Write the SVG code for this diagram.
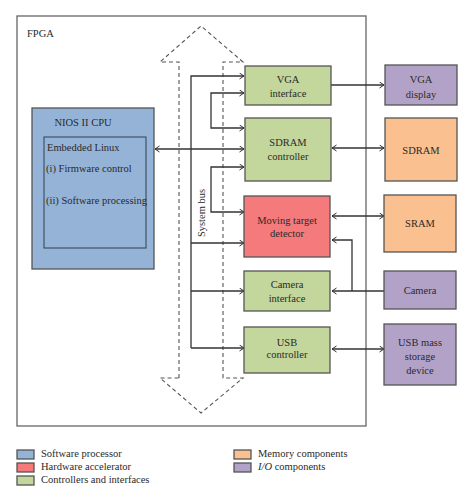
<svg xmlns="http://www.w3.org/2000/svg" width="474" height="502" viewBox="0 0 474 502">
<defs>
<marker id="arr" markerUnits="userSpaceOnUse" markerWidth="8" markerHeight="8" refX="5" refY="3.5" orient="auto-start-reverse">
<path d="M0.5,0.5 L5,3.5 L0.5,6.5" fill="none" stroke="#333" stroke-width="1"/>
</marker>
</defs>
<style>
text{font-family:"Liberation Serif","Times New Roman",serif;font-size:10.5px;fill:#2a2a2a}
.c{text-anchor:middle}
.box{stroke:#555;stroke-width:1.3}
.blue{fill:#95b3d7}
.red{fill:#f47a7c}
.green{fill:#c3d69b}
.orange{fill:#fac090}
.purple{fill:#b3a2c7}
.ln{fill:none;stroke:#333;stroke-width:1.3}
.bus{fill:none;stroke:#555;stroke-width:1.1;stroke-dasharray:4,3}
</style>
<rect width="474" height="502" fill="#fff"/>
<g id="fpga">
<rect x="17" y="16" width="349" height="410" fill="none" stroke="#666" stroke-width="1.3"/>
<text x="27" y="37">FPGA</text>
</g>
<g id="system-bus">
<path class="bus" d="M179,378 L179,62 L160,62 L201,26 L243,62 L223,62 L223,378 L243,378 L201,413 L160,378 L179,378"/>
<text class="c" transform="translate(205,213) rotate(-90)">System bus</text>
</g>
<g id="connectors">
<path class="ln" d="M191,348 L191,76 L244,76" marker-end="url(#arr)"/>
<path class="ln" d="M191,243 L244,243" marker-end="url(#arr)"/>
<path class="ln" d="M191,291 L244,291" marker-end="url(#arr)"/>
<path class="ln" d="M191,348 L244,348" marker-end="url(#arr)"/>
<path class="ln" d="M244,93 L211,93 L211,128 L244,128" marker-start="url(#arr)" marker-end="url(#arr)"/>
<path class="ln" d="M244,167 L211,167 L211,212 L244,212" marker-start="url(#arr)" marker-end="url(#arr)"/>
<path class="ln" d="M155,149 L244,149" marker-start="url(#arr)" marker-end="url(#arr)"/>
<path class="ln" d="M331,85 L384,85" marker-end="url(#arr)"/>
<path class="ln" d="M332,148 L384,148" marker-start="url(#arr)" marker-end="url(#arr)"/>
<path class="ln" d="M332,216 L384,216" marker-start="url(#arr)" marker-end="url(#arr)"/>
<path class="ln" d="M384,291 L332,291" marker-end="url(#arr)"/>
<path class="ln" d="M352,291 L352,240 L332,240" marker-end="url(#arr)"/>
<path class="ln" d="M332,349 L384,349" marker-start="url(#arr)" marker-end="url(#arr)"/>
</g>
<g id="nios-cpu">
<rect class="box blue" x="32" y="108" width="122" height="161"/>
<rect x="44" y="137" width="102" height="111" fill="none" stroke="#3a4a5e" stroke-width="1.1"/>
<text class="c" x="83" y="126">NIOS II CPU</text>
<text x="47" y="151">Embedded Linux</text>
<text x="46" y="172">(i) Firmware control</text>
<text x="46" y="204">(ii) Software processing</text>
</g>
<g id="vga-interface">
<rect class="box green" x="245" y="66" width="86" height="39"/>
<text class="c" x="288" y="83">VGA</text>
<text class="c" x="288" y="97">interface</text>
</g>
<g id="sdram-controller">
<rect class="box green" x="245" y="118" width="86" height="63"/>
<text class="c" x="288" y="146">SDRAM</text>
<text class="c" x="288" y="160">controller</text>
</g>
<g id="moving-target-detector">
<rect class="box red" x="244" y="196" width="86" height="61"/>
<text class="c" x="287" y="224">Moving target</text>
<text class="c" x="287" y="237">detector</text>
</g>
<g id="camera-interface">
<rect class="box green" x="244" y="271" width="86" height="40"/>
<text class="c" x="287" y="288">Camera</text>
<text class="c" x="287" y="302">interface</text>
</g>
<g id="usb-controller">
<rect class="box green" x="244" y="327" width="86" height="46"/>
<text class="c" x="287" y="346">USB</text>
<text class="c" x="287" y="358">controller</text>
</g>
<g id="vga-display">
<rect class="box purple" x="385" y="65" width="72" height="40"/>
<text class="c" x="421" y="83">VGA</text>
<text class="c" x="421" y="98">display</text>
</g>
<g id="sdram">
<rect class="box orange" x="385" y="118" width="72" height="63"/>
<text class="c" x="421" y="154">SDRAM</text>
</g>
<g id="sram">
<rect class="box orange" x="384" y="195" width="72" height="57"/>
<text class="c" x="420" y="227">SRAM</text>
</g>
<g id="camera">
<rect class="box purple" x="384" y="271" width="72" height="38"/>
<text class="c" x="420" y="294">Camera</text>
</g>
<g id="usb-mass-storage">
<rect class="box purple" x="384" y="324" width="72" height="61"/>
<text class="c" x="420" y="346">USB mass</text>
<text class="c" x="420" y="360">storage</text>
<text class="c" x="420" y="374">device</text>
</g>
<g id="legend">
<rect class="box blue" x="17" y="450" width="17" height="9" stroke-width="1"/>
<rect class="box red" x="17" y="463" width="17" height="9" stroke-width="1"/>
<rect class="box green" x="17" y="476" width="17" height="9" stroke-width="1"/>
<rect class="box orange" x="234" y="450" width="17" height="9" stroke-width="1"/>
<rect class="box purple" x="234" y="463" width="17" height="9" stroke-width="1"/>
<text x="41" y="457">Software processor</text>
<text x="41" y="470">Hardware accelerator</text>
<text x="41" y="483">Controllers and interfaces</text>
<text x="258" y="457">Memory components</text>
<text x="258" y="470"><tspan font-style="italic">I/O</tspan> components</text>
</g>
</svg>
